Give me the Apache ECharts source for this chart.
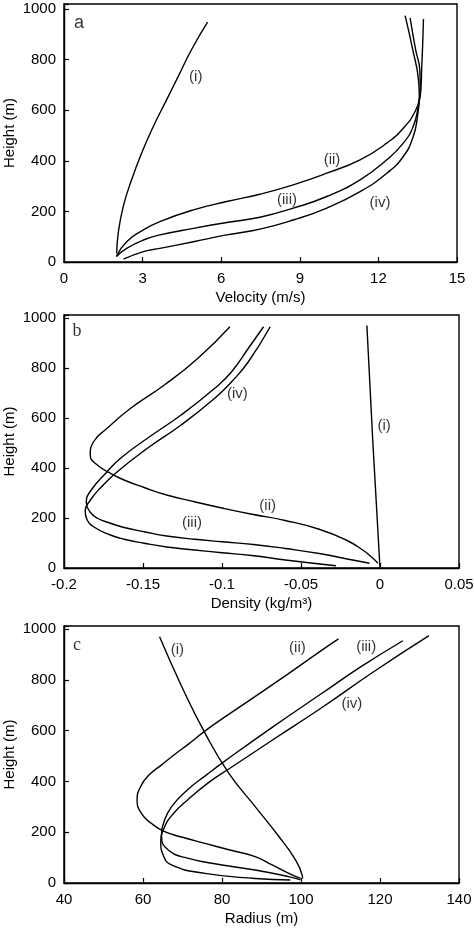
<!DOCTYPE html>
<html>
<head>
<meta charset="utf-8">
<script src="https://cdn.jsdelivr.net/npm/echarts@6/dist/echarts.min.js"></script>
<style>html,body{margin:0;padding:0;background:#fff;}#c{width:474px;height:931px;}</style>
</head>
<body>
<div id="c"></div>
<script>
// Panel a: velocity (m/s) vs height (m)
const velI   = [[2.01,34],[2.07,114],[2.26,219],[2.58,325],[2.96,430],[3.41,536],[3.92,642],[4.36,734],[4.87,840],[5.48,948]];
const velII  = [[2.0,22],[2.39,80],[3.03,127],[3.66,160],[4.94,206],[6.21,239],[7.48,268],[8.75,305],[10.03,351],[11.3,404],[12.32,470],[12.95,529],[13.4,595],[13.59,655],[13.63,700],[13.65,760],[13.69,860],[13.72,961]];
const velIII = [[2.0,22],[2.39,54],[3.03,87],[3.66,107],[4.94,133],[6.21,156],[7.48,177],[8.75,213],[10.03,259],[11.3,325],[12.32,404],[12.95,470],[13.33,536],[13.52,615],[13.6,681],[13.58,760],[13.42,840],[13.21,965]];
const velIV  = [[2.27,11],[3.03,41],[3.66,54],[4.94,80],[6.21,107],[7.48,130],[8.75,166],[10.03,213],[11.3,278],[12.32,351],[12.95,417],[13.33,496],[13.49,575],[13.56,655],[13.53,720],[13.31,840],[13.02,974]];
// Panel b: density (kg/m3) vs height (m)
const densI   = [[0.0,0],[-0.0045,500],[-0.0083,970]];
const densII  = [[-0.0013,19],[-0.0045,39],[-0.0109,72],[-0.0215,112],[-0.0385,155],[-0.06,190],[-0.081,215],[-0.1,240],[-0.1174,265],[-0.135,292],[-0.1493,322],[-0.162,352],[-0.1706,379],[-0.1795,415],[-0.1834,452],[-0.1813,505],[-0.1727,559],[-0.1578,639],[-0.1365,732],[-0.1152,839],[-0.095,965]];
const densIII = [[-0.0066,19],[-0.0173,32],[-0.0385,58],[-0.0599,78],[-0.08,94],[-0.1,105],[-0.1174,115],[-0.135,128],[-0.1493,145],[-0.162,162],[-0.1706,179],[-0.1785,198],[-0.1832,222],[-0.1859,262],[-0.183,310],[-0.1727,385],[-0.1642,439],[-0.1472,519],[-0.1259,612],[-0.1046,719],[-0.0939,785],[-0.0833,879],[-0.0737,965]];
const densIV  = [[-0.0279,9],[-0.0599,32],[-0.0812,50],[-0.1,61],[-0.1174,72],[-0.135,84],[-0.1493,99],[-0.162,115],[-0.1706,132],[-0.1813,165],[-0.1855,195],[-0.1866,228],[-0.1835,270],[-0.177,320],[-0.1663,385],[-0.1472,479],[-0.1259,572],[-0.1046,679],[-0.0939,745],[-0.0833,825],[-0.0695,965]];
// Panel c: radius (m) vs height (m)
const radI   = [[100.4,18],[100.3,31],[98.6,91],[94.4,183],[88.4,301],[81.7,433],[75.7,590],[69.8,774],[64.2,970]];
const radII  = [[99.9,18],[96.9,38],[92.7,71],[88.4,104],[82,130],[75.7,156],[70,180],[65.5,202],[62.1,235],[59.6,274],[58.5,327],[59.4,380],[61.5,425],[64.7,465],[68,506],[71.5,547],[75.4,595],[80,646],[92.7,780],[105.4,918],[109.5,961]];
const radIII = [[99.9,12],[96.9,25],[88.4,51],[80,71],[71.5,97],[66.4,130],[64.7,183],[65.3,240],[67.2,300],[71.5,370],[76,425],[80.7,480],[92.7,613],[105.4,748],[115,850],[125.8,954]];
const radIV  = [[97.3,12],[88.4,18],[75.7,38],[67.2,71],[65.1,110],[64.5,160],[65.3,215],[67.5,270],[71.5,330],[77,400],[82,452],[92.7,562],[105.4,692],[118.2,830],[132.4,974]];
// Curve annotations [x, y, text]
const notesA = [[0.57,943,'a'],[5.03,730,'(i)'],[10.23,404,'(ii)'],[8.51,246,'(iii)'],[12.06,234,'(iv)']];
const notesB = [[-0.1917,945,'b'],[-0.0903,695,'(iv)'],[0.0026,568,'(i)'],[-0.0711,249,'(ii)'],[-0.119,181,'(iii)']];
const notesC = [[43.3,937,'c'],[68.7,920,'(i)'],[99.1,924,'(ii)'],[116.5,928,'(iii)'],[112.9,704,'(iv)']];
// Axes
const xNames = ['Velocity (m/s)','Density (kg/m\u00B3)','Radius (m)'];
const xMins = [0,-0.2,40], xMaxs = [15,0.05,140], xSteps = [3,0.05,20];
const yName = 'Height (m)';

const SANS = 'Liberation Sans, Arial, sans-serif';
const grids = [
  {left:64, width:393, top:4,   height:258},
  {left:64, width:395, top:315, height:253},
  {left:64, width:395, top:626, height:257}
];
const yMaxs = [1020,1012,1012];
const chart = echarts.init(document.getElementById('c'), null, {renderer:'canvas'});
const lineS = (data, gi) => ({type:'line', xAxisIndex:gi, yAxisIndex:gi, data, showSymbol:false, smooth:0.5,
  lineStyle:{color:'#000', width:1.4}, silent:true, animation:false});
const noteS = (notes, gi) => ({type:'scatter', xAxisIndex:gi, yAxisIndex:gi, symbol:'circle', symbolSize:1,
  itemStyle:{color:'rgba(0,0,0,0)'}, silent:true, animation:false,
  data: notes.map(n => ({value:[n[0],n[1]], name:n[2],
    label:{show:true, position:'inside', align:'center', verticalAlign:'middle', formatter:'{b}', color:'#000',
      fontFamily: (n[2]==='b'||n[2]==='c') ? 'Liberation Serif, serif' : SANS,
      fontSize: n[2].length===1 ? 18 : 15}}))});
const option = {
  backgroundColor:'#fff',
  grid: grids.map(g => Object.assign({show:true, containLabel:false, outerBoundsMode:'none',
    borderColor:'#000', borderWidth:1.4, backgroundColor:'transparent'}, g)),
  xAxis: [0,1,2].map(i => ({type:'value', gridIndex:i, min:xMins[i], max:xMaxs[i], interval:xSteps[i],
    name:xNames[i], nameLocation:'middle', nameGap:28, nameMoveOverlap:false,
    nameTextStyle:{color:'#000', fontSize:15, fontFamily:SANS},
    axisLine:{show:true, onZero:false, lineStyle:{color:'#000', width:1.4}},
    axisTick:{show:true, inside:true, length:5, lineStyle:{color:'#000', width:1.2}},
    axisLabel:{color:'#000', fontSize:15, fontFamily:SANS, margin:9, showMinLabel:true, showMaxLabel:true, hideOverlap:false},
    splitLine:{show:false}})),
  yAxis: [0,1,2].map(i => ({type:'value', gridIndex:i, min:0, max:yMaxs[i], interval:200,
    name:yName, nameLocation:'middle', nameRotate:90, nameGap:47, nameMoveOverlap:false,
    nameTextStyle:{color:'#000', fontSize:15, fontFamily:SANS},
    axisLine:{show:true, onZero:false, lineStyle:{color:'#000', width:1.4}},
    axisTick:{show:true, inside:true, length:5, lineStyle:{color:'#000', width:1.2}},
    axisLabel:{color:'#000', fontSize:15, fontFamily:SANS, margin:8, formatter: v => (v % 200 === 0 ? String(v) : '')},
    splitLine:{show:false}})),
  series: [
    lineS(velI,0), lineS(velII,0), lineS(velIII,0), lineS(velIV,0),
    lineS(densI,1), lineS(densII,1), lineS(densIII,1), lineS(densIV,1),
    lineS(radI,2), lineS(radII,2), lineS(radIII,2), lineS(radIV,2),
    noteS(notesA,0), noteS(notesB,1), noteS(notesC,2)
  ]
};
chart.setOption(option);
</script>
</body>
</html>
